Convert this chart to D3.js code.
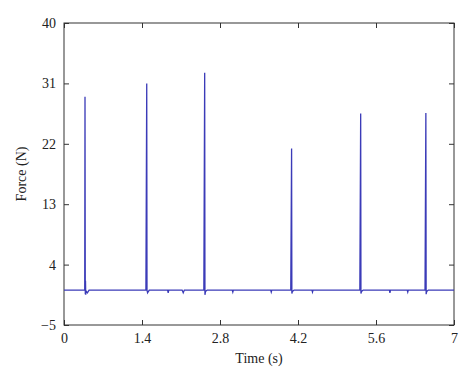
<!DOCTYPE html>
<html>
<head>
<meta charset="utf-8">
<script src="https://cdn.jsdelivr.net/npm/d3@7"></script>
<style>
  body { margin: 0; background: #fff; }
  text { font-family: "Liberation Serif", "DejaVu Serif", serif; fill: #222; }
</style>
</head>
<body>
<div id="chart"></div>
<script>
// force trace
const timeS = [0, 0.36, 0.372, 0.377, 0.382, 0.386, 0.39, 0.395, 0.42, 0.45,
  1.47, 1.485, 1.49, 1.5, 1.53, 1.86, 1.87, 1.88, 2.12, 2.14, 2.16,
  2.51, 2.525, 2.53, 2.54, 2.57, 3.02, 3.03, 3.04, 3.71, 3.72, 3.73,
  4.07, 4.085, 4.09, 4.1, 4.13, 4.45, 4.46, 4.47,
  5.31, 5.325, 5.33, 5.34, 5.37, 5.84, 5.85, 5.86, 6.16, 6.17, 6.18,
  6.48, 6.495, 6.5, 6.51, 6.54, 7];
const forceN = [0.2, 0.2, 0.2, 29.0, -0.4, 1.6, -0.5, 0.1, -0.2, 0.2,
  0.2, 31.0, 0.2, -0.2, 0.2, 0.2, -0.2, 0.2, 0.2, -0.2, 0.2,
  0.2, 32.6, -0.5, 0.0, 0.2, 0.2, -0.1, 0.2, 0.2, -0.1, 0.2,
  0.2, 21.3, -0.3, 0.0, 0.2, 0.2, -0.1, 0.2,
  0.2, 26.5, -0.3, 0.0, 0.2, 0.2, -0.2, 0.2, 0.2, -0.1, 0.2,
  0.2, 26.6, -0.4, 0.0, 0.2, 0.2];
const xTicks = [0, 1.4, 2.8, 4.2, 5.6, 7];
const yTicks = [-5, 4, 13, 22, 31, 40];

const config = {
  width: 474,
  height: 385,
  margin: { top: 23, right: 20, bottom: 60, left: 64 },
};
const width = config.width - config.margin.left - config.margin.right;
const height = config.height - config.margin.top - config.margin.bottom;

const svg = d3.select("#chart").append("svg")
  .attr("width", config.width)
  .attr("height", config.height);

const g = svg.append("g")
  .attr("transform", `translate(${config.margin.left},${config.margin.top})`);

const x = d3.scaleLinear().domain([0, 7]).range([0, width]);
const y = d3.scaleLinear().domain([-5, 40]).range([height, 0]);

const fmt = (d) => (d < 0 ? "\u2212" + Math.abs(d) : String(d));
const tickLen = 5;

// axes with inward ticks, on all four sides
const styleAxis = (sel) => {
  sel.select(".domain").remove();
  sel.selectAll(".tick line").attr("stroke", "#333");
  sel.selectAll(".tick text").attr("font-size", 14).attr("font-family", "Liberation Serif").attr("fill", "#222");
};

g.append("g").attr("transform", `translate(0,${height})`)
  .call(d3.axisBottom(x).tickValues(xTicks).tickFormat(fmt).tickSizeInner(-tickLen).tickSizeOuter(0).tickPadding(8))
  .call(styleAxis);
g.append("g")
  .call(d3.axisTop(x).tickValues(xTicks).tickFormat("").tickSizeInner(-tickLen).tickSizeOuter(0))
  .call(styleAxis);
g.append("g")
  .call(d3.axisLeft(y).tickValues(yTicks).tickFormat(fmt).tickSizeInner(-tickLen).tickSizeOuter(0).tickPadding(8))
  .call(styleAxis);
g.append("g").attr("transform", `translate(${width},0)`)
  .call(d3.axisRight(y).tickValues(yTicks).tickFormat("").tickSizeInner(-tickLen).tickSizeOuter(0))
  .call(styleAxis);

g.append("rect")
  .attr("width", width)
  .attr("height", height)
  .attr("fill", "none")
  .attr("stroke", "#333")
  .attr("stroke-width", 1);

const line = d3.line()
  .x((d, i) => x(timeS[i]))
  .y((d) => y(d));

g.append("path")
  .datum(forceN)
  .attr("d", line)
  .attr("fill", "none")
  .attr("stroke", "#3b3bb8")
  .attr("stroke-width", 1.3);

g.append("text")
  .attr("text-anchor", "middle")
  .attr("x", width / 2)
  .attr("y", height + 38)
  .attr("font-size", 14)
  .text("Time (s)");

g.append("text")
  .attr("text-anchor", "middle")
  .attr("transform", "rotate(-90)")
  .attr("x", -height / 2)
  .attr("y", -38)
  .attr("font-size", 14)
  .text("Force (N)");
</script>
</body>
</html>
